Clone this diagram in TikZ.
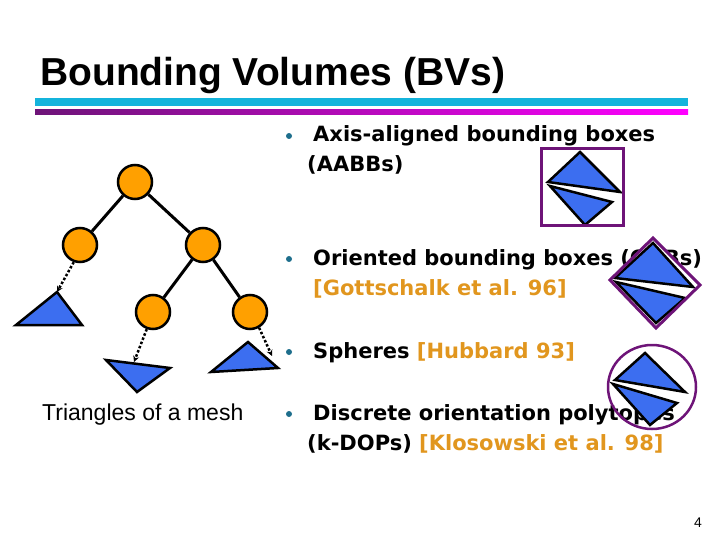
\documentclass[tikz,border=0pt]{standalone}
\usepackage{fontspec}
\setmainfont{DejaVu Sans}
\newfontfamily\arialf{Liberation Sans}
\usetikzlibrary{arrows.meta}
\definecolor{orng}{RGB}{255,160,0}
\definecolor{triblue}{RGB}{60,110,240}
\definecolor{bvpurple}{RGB}{110,20,120}
\definecolor{ref}{RGB}{225,150,30}
\definecolor{bul}{RGB}{30,110,140}
\definecolor{cyanbar}{RGB}{20,180,220}
\begin{document}
\begin{tikzpicture}[x=1pt,y=-1pt,
  tnode/.style={circle,draw=black,line width=2.5pt,fill=orng,minimum size=34pt,inner sep=0pt},
  edge/.style={line width=3pt},
  tri/.style={draw=black,line width=2.5pt,fill=triblue,line join=miter},
  ptr/.style={line width=2.5pt,dotted,-{Stealth[length=6pt,width=6pt]}},
  bv/.style={draw=bvpurple,line width=3pt},
  itxt/.style={anchor=base west,inner sep=0pt,font=\bfseries\fontsize{21}{24}\selectfont},
  dot/.style={circle,fill=bul,inner sep=0pt,minimum size=6pt}]
\useasboundingbox (0,0) rectangle (720,540);
\node[anchor=base west,inner sep=0pt,font=\arialf\bfseries\fontsize{39}{44}\selectfont] (title) at (40,86) {Bounding Volumes (BVs)};
\fill[cyanbar] (35,98) rectangle (688,106);
\shade[left color=bvpurple,right color=magenta] (35,110) rectangle (688,115);
% tree
\node[tnode] (r) at (135,182) {};
\node[tnode] (a) at (80,245) {};
\node[tnode] (b) at (203,245) {};
\node[tnode] (c) at (153,312) {};
\node[tnode] (d) at (250,312) {};
\draw[edge] (r) -- (a); \draw[edge] (r) -- (b);
\draw[edge] (b) -- (c); \draw[edge] (b) -- (d);
\filldraw[tri] (16,325) -- (57,292) -- (82,325) -- cycle;
\filldraw[tri] (106,360) -- (170,368) -- (137,392) -- cycle;
\filldraw[tri] (211,372) -- (248,342) -- (278,368) -- cycle;
\coordinate (t1) at (57,292); \coordinate (t2) at (134,362); \coordinate (t3) at (272,356);
\draw[ptr] (a.250) -- (t1);
\draw[ptr] (c.250) -- (t2);
\draw[ptr] (d.-60) -- (t3);
\node[anchor=base west,inner sep=0pt,font=\arialf\fontsize{23}{26}\selectfont] (lbl) at (42,420) {Triangles of a mesh};
% bullets
\node[dot] (d1) at (289,136) {};
\node[itxt] (i1) at (313,142) {Axis-aligned bounding boxes};
\node[itxt] (i1b) at (307,172) {(AABBs)};
\node[dot] (d2) at (289,259) {};
\node[itxt] (i2) at (313,265) {Oriented bounding boxes (OBBs)};
\node[itxt] (i2b) at (313,295) {\textcolor{ref}{[Gottschalk et al. 96]}};
\node[dot] (d3) at (289,352) {};
\node[itxt] (i3) at (313,358) {Spheres \textcolor{ref}{[Hubbard 93]}};
\node[dot] (d4) at (289,414) {};
\node[itxt] (i4) at (313,420) {Discrete orientation polytopes};
\node[itxt] (i4b) at (307,450) {(k-DOPs) \textcolor{ref}{[Klosowski et al. 98]}};
% AABB icon
\fill[white] (541,149) rectangle (623,226);
\filldraw[tri] (548,182) -- (580,152) -- (620,192) -- cycle;
\filldraw[tri] (550,186) -- (612,202) -- (585,225) -- cycle;
\draw[bv] (541,149) rectangle (623,226);
% OBB icon
\fill[white] (653,238) -- (700,285) -- (656,328) -- (610,280) -- cycle;
\filldraw[tri] (615,278) -- (653,243) -- (693,287) -- cycle;
\filldraw[tri] (616,282) -- (685,298) -- (656,323) -- cycle;
\draw[bv] (653,238) -- (700,285) -- (656,328) -- (610,280) -- cycle;
% sphere icon
\filldraw[tri] (615,380) -- (645,353) -- (685,392) -- cycle;
\filldraw[tri] (613,384) -- (677,403) -- (650,425) -- cycle;
\draw[bv,line width=2.5pt] (652,387) ellipse [x radius=44, y radius=42];
\node[anchor=base east,inner sep=0pt,font=\arialf\fontsize{14}{16}\selectfont] (pg) at (702,527) {4};
\end{tikzpicture}
\end{document}
